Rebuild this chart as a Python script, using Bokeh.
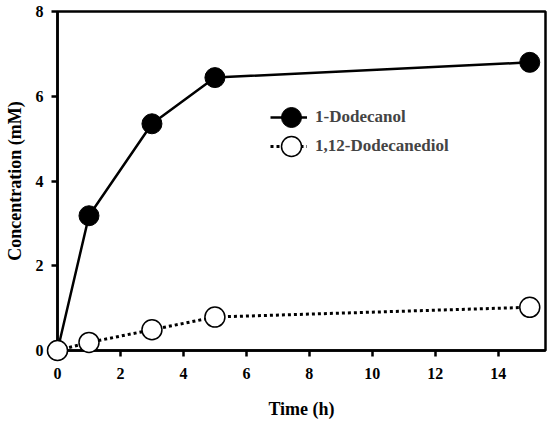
from bokeh.plotting import figure
from bokeh.models import Legend, LegendItem, Range1d, FixedTicker
from bokeh.embed import file_html
from bokeh.resources import INLINE

time_h = [0, 1, 3, 5, 15]
dodecanol = [0, 3.18, 5.35, 6.44, 6.80]
dodecanediol = [0, 0.19, 0.49, 0.79, 1.02]
x_ticks = [0, 2, 4, 6, 8, 10, 12, 14]
y_ticks = [0, 2, 4, 6, 8]
labels = ["1-Dodecanol", "1,12-Dodecanediol"]

FONT = "Liberation Serif"

p = figure(width=550, height=424, output_backend="svg", toolbar_location=None,
           x_range=Range1d(0, 15.5), y_range=Range1d(0, 8),
           min_border_left=57, min_border_right=5, min_border_top=11, min_border_bottom=74)
p.grid.visible = False
p.outline_line_color = "black"
p.outline_line_width = 2.5
p.outline_line_alpha = 1

for ax in (p.xaxis[0], p.yaxis[0]):
    ax.axis_line_width = 2.5
    ax.major_tick_line_width = 2.5
    ax.major_tick_out = 6
    ax.major_tick_in = 0
    ax.minor_tick_line_color = None
    ax.major_label_text_font = FONT
    ax.major_label_text_font_style = "bold"
    ax.major_label_text_font_size = "16px"
    ax.major_label_text_color = "black"
    ax.axis_label_text_font = FONT
    ax.axis_label_text_font_style = "bold"
    ax.axis_label_text_font_size = "18px"
    ax.axis_label_text_color = "black"

p.xaxis.ticker = FixedTicker(ticks=x_ticks)
p.yaxis.ticker = FixedTicker(ticks=y_ticks)
p.xaxis.axis_label = "Time (h)"
p.yaxis.axis_label = "Concentration (mM)"
p.xaxis.major_label_standoff = 11
p.xaxis.axis_label_standoff = 17
p.yaxis.major_label_standoff = 8
p.yaxis.axis_label_standoff = 8

l1 = p.line(time_h, dodecanol, line_color="black", line_width=2.5)
l2 = p.line(time_h, dodecanediol, line_color="black", line_width=3, line_dash="3 3")
m1 = p.scatter(time_h, dodecanol, size=20, marker="circle", fill_color="black", line_color="black", level="overlay")
m2 = p.scatter(time_h, dodecanediol, size=20, marker="circle", fill_color="white", line_color="black",
               line_width=1.5, level="overlay")

common = dict(padding=0, margin=0, background_fill_alpha=0, border_line_alpha=0)
leg_lines = Legend(items=[LegendItem(label=labels[0], renderers=[l1]),
                          LegendItem(label=labels[1], renderers=[l2])],
                   location=(213, 193), glyph_width=37, glyph_height=22, spacing=7,
                   label_standoff=8,
                   label_text_font=FONT, label_text_font_style="bold", label_text_font_size="17px",
                   **common)
leg_m1 = Legend(items=[LegendItem(label=" ", renderers=[m1])],
                location=(209, 208), glyph_width=50, glyph_height=50, label_standoff=0,
                label_text_font_size="1px", **common)
leg_m2 = Legend(items=[LegendItem(label=" ", renderers=[m2])],
                location=(209, 179), glyph_width=50, glyph_height=50, label_standoff=0,
                label_text_font_size="1px", **common)
p.add_layout(leg_lines)
p.add_layout(leg_m1)
p.add_layout(leg_m2)

open("out.html", "w").write(file_html(p, INLINE))
